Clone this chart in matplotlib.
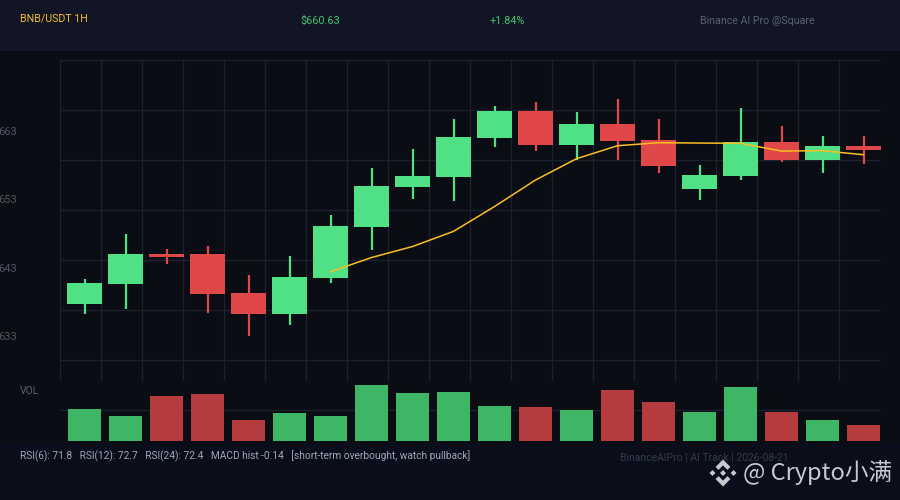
import matplotlib
matplotlib.use("Agg")
import matplotlib.pyplot as plt
from matplotlib.patches import Polygon, Rectangle

plt.rcParams['font.family'] = ['Roboto', 'Noto Sans CJK SC', 'DejaVu Sans']

# Data
opens  = [638.13, 641.05, 645.44, 645.44, 639.74, 636.67, 641.93, 649.39, 655.25, 656.71,
          662.41, 666.36, 661.39, 664.46, 662.12, 654.95, 656.86, 661.83, 659.20, 661.24]
closes = [641.20, 645.44, 645.00, 639.59, 636.67, 642.08, 649.54, 655.39, 656.86, 662.56,
          666.36, 661.39, 664.46, 661.98, 658.32, 657.00, 661.83, 659.20, 661.24, 660.66]
highs  = [641.79, 648.37, 646.18, 646.61, 642.37, 645.15, 651.15, 658.03, 660.81, 665.19,
          667.10, 667.68, 666.22, 668.12, 665.19, 658.46, 666.80, 664.17, 662.71, 662.71]
lows   = [636.67, 637.40, 643.98, 636.81, 633.45, 635.06, 641.20, 646.03, 653.49, 653.20,
          661.10, 660.51, 659.20, 659.20, 657.29, 653.34, 656.27, 658.90, 657.29, 658.61]
ema_x  = [6, 7, 8, 9, 10, 11, 12, 13, 14, 15, 16, 17, 18, 19]
ema    = [642.85, 644.93, 646.54, 648.76, 652.39, 656.27, 659.39, 661.29, 661.73, 661.68,
          661.64, 660.51, 660.56, 659.97]
volume = [32, 25, 45, 47, 21, 28, 25, 56, 48, 49, 35, 34, 31, 51, 39, 29, 54, 29, 21, 16]
price_labels = [663, 653, 643, 633]

BG = '#0a0d14'; HEADER = '#111524'; FOOTER = '#0a0e1a'; GRID = '#1c2030'
UP = '#50e086'; DOWN = '#df4748'; VUP = '#3db665'; VDOWN = '#b43c3e'
W, H = 900, 500

fig = plt.figure(figsize=(9, 5), dpi=100, facecolor=BG)

def px_axes(x0, y0, x1, y1):
    return fig.add_axes([x0 / W, 1 - y1 / H, (x1 - x0) / W, (y1 - y0) / H])

def ftext(x, y, s, **kw):
    fig.text(x / W, 1 - y / H, s, va=kw.pop('va', 'center'), **kw)

# Header and footer bands
fig.add_artist(Rectangle((0, 1 - 51 / H), 1, 51 / H, transform=fig.transFigure, fc=HEADER, ec='none', zorder=-5))
fig.add_artist(Rectangle((0, 0), 1, 56 / H, transform=fig.transFigure, fc=FOOTER, ec='none', zorder=-5))

# Candle axes
XL = (-0.5976, 19.4268)
ax = px_axes(60, 60, 881, 380.5)
ax.set_facecolor('none')
ax.set_xlim(*XL)
ax.set_ylim(626.94, 673.83)
for s in ax.spines.values():
    s.set_visible(False)
ax.set_xticks([-0.5976 + k for k in range(20)])
ax.set_yticks([673.83 - 7.317 * k for k in range(7)])
ax.tick_params(length=0, labelleft=False, labelbottom=False)
ax.grid(True, color=GRID, lw=1.0)
ax.set_axisbelow(True)

for i, (o, c, h, l) in enumerate(zip(opens, closes, highs, lows)):
    col = UP if c >= o else DOWN
    ax.vlines(i, l, h, color=col, lw=1.6, zorder=2)
    ax.bar(i, abs(c - o), bottom=min(o, c), width=35 / 41, color=col, lw=0, zorder=3)
ax.plot(ema_x, ema, color='#fbbf24', lw=1.1, zorder=4, solid_joinstyle='round')

for p in price_labels:
    ax.annotate(str(p), xy=(0, p), xycoords=ax.get_yaxis_transform(), xytext=(-43 * 0.72, 1.6),
                textcoords='offset points', ha='right', va='center', fontsize=8, color='#4f5564',
                annotation_clip=False)

# Volume axes
vx = px_axes(60, 385, 881, 441)
vx.set_facecolor('none')
vx.set_xlim(*XL)
vx.set_ylim(0, 56)
for s in vx.spines.values():
    s.set_visible(False)
vx.set_xticks([])
vx.set_yticks([31])
vx.tick_params(length=0, labelleft=False)
vx.grid(True, axis='y', color=GRID, lw=1.0)
vx.set_axisbelow(True)
vx.bar(range(20), volume, width=33 / 41, lw=0, zorder=3,
       color=[VUP if c >= o else VDOWN for o, c in zip(opens, closes)])

# Text
ftext(20, 18, 'BNB/USDT 1H', fontsize=7.7, color='#f5bd2e', ha='left')
ftext(300, 21, '$660.63', fontsize=7.85, color='#46c472', ha='left')
ftext(490, 21, '+1.84%', fontsize=7.85, color='#46c472', ha='left')
ftext(700, 21, 'Binance AI Pro @Square', fontsize=7.65, color='#5b6170', ha='left')
ftext(20, 391, 'VOL', fontsize=7.5, color='#5b6170', ha='left')
ftext(20, 456, 'RSI(6): 71.8   RSI(12): 72.7   RSI(24): 72.4   MACD hist -0.14   [short-term overbought, watch pullback]',
      fontsize=7.28, color='#a0a6b8', ha='left')
ftext(620, 458, 'BinanceAIPro | AI Track | 2026-08-21', fontsize=7.45, color='#353a4a', ha='left')

# Watermark
WM = '#c6cace'
ftext(743, 473, '@ Crypto小满', fontsize=17, color=WM, ha='left',
      family=['Noto Sans CJK SC', 'DejaVu Sans'])
cx, cy, R = 723, 473, 13.5
def logo(points):
    fig.add_artist(Polygon([((cx + R * a) / W, 1 - (cy - R * b) / H) for a, b in points],
                           transform=fig.transFigure, fc=WM, ec='none'))
for dx in (-0.78, 0, 0.78):
    logo([(dx - .22, 0), (dx, .22), (dx + .22, 0), (dx, -.22)])
for sgn in (1, -1):
    logo([(0, sgn), (.55, sgn * .45), (.33, sgn * .23), (0, sgn * .56), (-.33, sgn * .23), (-.55, sgn * .45)])

fig.savefig('out.png', dpi=100, facecolor=fig.get_facecolor())
